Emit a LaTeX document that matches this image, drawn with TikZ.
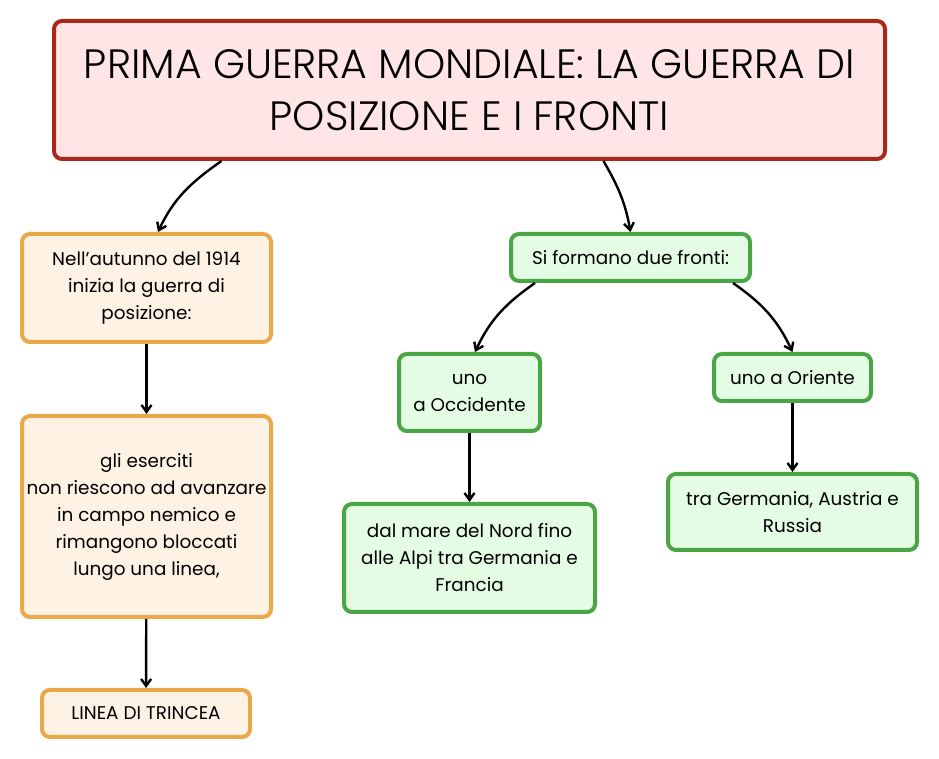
\documentclass[tikz,border=0pt]{standalone}
\usepackage{fontspec}
\setmainfont{Poppins}
\newfontfamily\titlefont{Poppins Light}
\usetikzlibrary{arrows.meta}
\definecolor{titleline}{HTML}{A8281C}
\definecolor{titlefill}{HTML}{FFE5E5}
\definecolor{orangeline}{HTML}{E9A84A}
\definecolor{orangefill}{HTML}{FEF2E5}
\definecolor{greenline}{HTML}{4AA544}
\definecolor{greenfill}{HTML}{E3FCE3}

\begin{document}
\begin{tikzpicture}[
    x=0.5pt, y=-0.5pt,
    box/.style={draw, rounded corners=4pt, line width=2pt, align=center, inner sep=0pt,
                font=\fontsize{9.2}{13.5}\selectfont},
    titlebox/.style={box, draw=titleline, fill=titlefill,
                     font=\titlefont\fontsize{20.5}{26}\selectfont},
    orangebox/.style={box, draw=orangeline, fill=orangefill},
    greenbox/.style={box, draw=greenline, fill=greenfill},
    conn/.style={-{Straight Barb[length=3.5pt,width=5pt]}, line width=1.2pt},
]
\useasboundingbox (0,0) rectangle (939,759);

% Title
\node[titlebox, minimum width=415.5pt, minimum height=69pt] (title) at (469.5,90)
  {PRIMA GUERRA MONDIALE: LA GUERRA DI\\POSIZIONE E I FRONTI};

% Left branch
\node[orangebox, minimum width=124.5pt, minimum height=54pt] (autunno) at (146.5,288)
  {Nell’autunno del 1914\\inizia la guerra di\\posizione:};
\node[orangebox, minimum width=124.5pt, minimum height=100.5pt] (eserciti) at (146.5,516.5)
  {gli eserciti\\non riescono ad avanzare\\in campo nemico e\\rimangono bloccati\\lungo una linea,};
\node[orangebox, minimum width=104pt, minimum height=23.5pt] (trincea) at (146,713.5)
  {LINEA DI TRINCEA};

% Right branch
\node[greenbox, minimum width=119.5pt, minimum height=23.5pt] (fronti) at (630.5,257.5)
  {Si formano due fronti:};
\node[greenbox, minimum width=70.5pt, minimum height=38.5pt] (occidente) at (469.5,392.5)
  {uno\\a Occidente};
\node[greenbox, minimum width=78.5pt, minimum height=23.5pt] (oriente) at (792.5,377.5)
  {uno a Oriente};
\node[greenbox, minimum width=125.5pt, minimum height=54pt] (nord) at (469.5,558)
  {dal mare del Nord fino\\alle Alpi tra Germania e\\Francia};
\node[greenbox, minimum width=124.5pt, minimum height=38pt] (russia) at (792.5,512)
  {tra Germania, Austria e\\Russia};

% Connectors
\draw[conn] ([xshift=-124pt]title.south) to[out=-145, in=65] ([xshift=5.75pt]autunno.north);
\draw[conn] ([xshift=67pt]title.south) to[out=-60, in=100] (fronti.north);
\draw[conn] (autunno) -- (eserciti);
\draw[conn] (eserciti) -- (trincea);
\draw[conn] ([xshift=-47.75pt]fronti.south) to[out=-145, in=65] ([xshift=2.75pt]occidente.north);
\draw[conn] ([xshift=51.25pt]fronti.south) to[out=-35, in=115] (oriente.north);
\draw[conn] (occidente) -- (nord);
\draw[conn] (oriente) -- (russia);

\end{tikzpicture}
\end{document}
